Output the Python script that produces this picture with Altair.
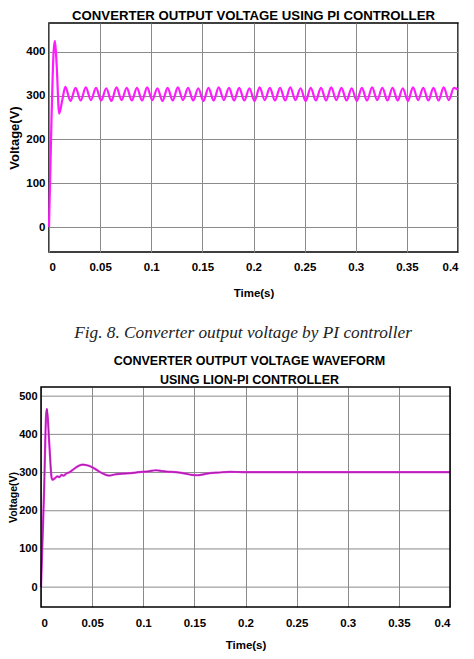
import pandas as pd
import altair as alt

# --- values ---

# top panel: PI controller (ripple peaks / troughs after the start-up spike)
pi_time = [0, 0.0025, 0.0045, 0.0058, 0.0075, 0.0099, 0.013,
           0.016, 0.021, 0.026, 0.031, 0.036, 0.041, 0.046, 0.051, 0.056, 0.061,
           0.066, 0.071, 0.076, 0.081, 0.086, 0.091, 0.096, 0.101, 0.106, 0.111,
           0.116, 0.121, 0.126, 0.131, 0.136, 0.141, 0.146, 0.151, 0.156, 0.161,
           0.166, 0.171, 0.176, 0.181, 0.186, 0.191, 0.196, 0.201, 0.206, 0.211,
           0.216, 0.221, 0.226, 0.231, 0.236, 0.241, 0.246, 0.251, 0.256, 0.261,
           0.266, 0.271, 0.276, 0.281, 0.286, 0.291, 0.296, 0.301, 0.306, 0.311,
           0.316, 0.321, 0.326, 0.331, 0.336, 0.341, 0.346, 0.351, 0.356, 0.361,
           0.366, 0.371, 0.376, 0.381, 0.386, 0.391, 0.396, 0.4]
pi_volt = [0, 250, 400, 425, 370, 259, 290,
           320, 288, 318, 289, 319, 290, 318, 289, 317, 288,
           319, 290, 318, 289, 318, 289, 319, 290, 317, 288,
           318, 289, 319, 290, 318, 289, 317, 288, 318, 289,
           319, 290, 318, 289, 318, 289, 317, 288, 319, 290,
           318, 289, 318, 289, 319, 290, 317, 288, 318, 289,
           318, 289, 319, 290, 318, 289, 317, 288, 318, 289,
           319, 290, 318, 289, 318, 289, 317, 288, 319, 290,
           318, 289, 318, 289, 319, 290, 318, 314]

# bottom panel: LION-PI controller
lion_time = [0, 0.003, 0.005, 0.0058, 0.008, 0.0105, 0.0114, 0.014, 0.016, 0.018,
             0.020, 0.022, 0.025, 0.028, 0.033, 0.037, 0.041, 0.045, 0.050, 0.055,
             0.060, 0.0667, 0.072, 0.080, 0.090, 0.095, 0.100, 0.105, 0.112, 0.118,
             0.125, 0.132, 0.140, 0.147, 0.153, 0.160, 0.167, 0.173, 0.185, 0.200,
             0.250, 0.300, 0.350, 0.400]
lion_volt = [0, 250, 450, 467, 380, 285, 281, 286, 290, 288,
             294, 292, 298, 301, 311, 318, 321, 319, 314, 306,
             298, 292, 295, 297, 299, 301, 302, 303, 306, 304,
             302, 301, 298, 294, 293, 296, 299, 300, 302, 301,
             301, 301, 301, 301]

x_ticks = [0, 0.05, 0.1, 0.15, 0.2, 0.25, 0.3, 0.35, 0.4]
x_limits = [0, 0.4]
pi_y_ticks = [0, 100, 200, 300, 400]
pi_y_limits = [-57, 466]
lion_y_ticks = [0, 100, 200, 300, 400, 500]
lion_y_limits = [-52, 524]

caption = "Fig. 8. Converter output voltage by PI controller"

FONT = "Liberation Sans"
GRID = "#8a8a8a"


def x_enc(label_pad, title_pad, rng=None):
    scale = alt.Scale(domain=x_limits, nice=False)
    if rng:
        scale = alt.Scale(domain=x_limits, nice=False, range=rng)
    return alt.X("t:Q", title="Time(s)", scale=scale,
                 axis=alt.Axis(values=x_ticks, format="~g", labelPadding=label_pad,
                               titlePadding=title_pad, titleFontSize=11.5, labelFontSize=11.5))


# --- top panel (PI) ---
pi_df = pd.DataFrame({"t": pi_time, "v": pi_volt})
top = alt.Chart(pi_df).mark_line(
    color="#ff1aff", strokeWidth=2.2, interpolate="monotone"
).encode(
    x=x_enc(9, 15),
    y=alt.Y("v:Q", title="Voltage(V)",
            scale=alt.Scale(domain=pi_y_limits, nice=False, zero=False),
            axis=alt.Axis(values=pi_y_ticks, labelPadding=4, titlePadding=4,
                          titleFontSize=13, labelFontSize=11.5)),
).properties(
    width=409, height=229,
    title=alt.TitleParams("CONVERTER OUTPUT VOLTAGE USING PI CONTROLLER", font=FONT,
                          fontWeight="bold", color="black", fontSize=13.2,
                          lineHeight=13, offset=0),
)

# --- caption between the two figures ---
cap = alt.Chart(pd.DataFrame({"c": [caption]})).mark_text(
    font="Liberation Serif", fontStyle="italic", fontSize=17.3, color="#222"
).encode(
    text="c:N", x=alt.value(194), y=alt.value(33)
).properties(width=400, height=54, view=alt.ViewBackground(strokeOpacity=0))

# --- bottom panel (LION-PI): its frame sits 8px left of the top one ---
lx = x_enc(10, 11, rng=[-8, 401])
ly = alt.Y("v:Q", title="Voltage(V)",
           scale=alt.Scale(domain=lion_y_limits, nice=False, zero=False),
           axis=alt.Axis(values=lion_y_ticks, labelPadding=4, titlePadding=0, offset=8,
                         titleFontSize=10.5, labelFontSize=11, grid=False))

lion_df = pd.DataFrame({"t": lion_time, "v": lion_volt})
hgrid_df = pd.DataFrame({"v": lion_y_ticks, "t": x_limits[0], "t2": x_limits[1]})
frame_df = pd.DataFrame({"t": [x_limits[0]], "t2": [x_limits[1]],
                         "v": [lion_y_limits[0]], "v2": [lion_y_limits[1]]})

hgrid = alt.Chart(hgrid_df).mark_rule(color=GRID, strokeWidth=1).encode(
    x=lx, x2="t2:Q", y=ly)
lion_line = alt.Chart(lion_df).mark_line(
    color="#e633e6", strokeWidth=2.2, interpolate="monotone").encode(x=lx, y=ly)
lion_core = alt.Chart(lion_df).mark_line(
    color="#8a1a8a", strokeWidth=0.8, interpolate="monotone").encode(x=lx, y=ly)
frame = alt.Chart(frame_df).mark_rect(
    filled=False, stroke="black", strokeWidth=1.5).encode(
    x=lx, x2="t2:Q", y=ly, y2="v2:Q")

bottom = alt.layer(hgrid, lion_line, lion_core, frame).properties(
    width=401, height=220,
    view=alt.ViewBackground(strokeOpacity=0),
    title=alt.TitleParams(["CONVERTER OUTPUT VOLTAGE WAVEFORM", "USING LION-PI CONTROLLER"],
                          font=FONT, fontWeight="bold", color="black", fontSize=12.5,
                          lineHeight=19, offset=0),
)

chart = alt.vconcat(top, cap, bottom, spacing=0).properties(
    padding=0
).configure_view(
    stroke="black", strokeWidth=1.5
).configure_axis(
    labelFont=FONT, titleFont=FONT, labelFontWeight="bold", titleFontWeight="bold",
    labelColor="black", titleColor="black",
    grid=True, gridColor=GRID, gridWidth=1, domain=False, ticks=False
)

chart.save("out.html", embed_options={"renderer": "svg", "actions": False})
